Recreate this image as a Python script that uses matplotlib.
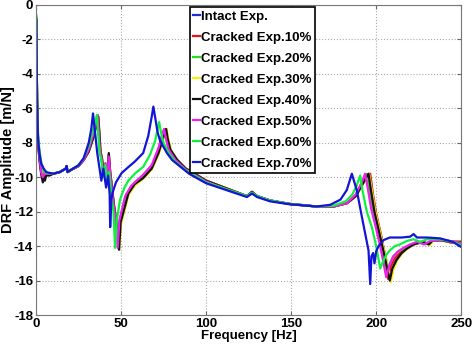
import matplotlib
matplotlib.use("Agg")
import matplotlib.pyplot as plt
import numpy as np

plt.rcParams["font.family"] = ["Liberation Sans", "DejaVu Sans"]
plt.rcParams["font.weight"] = "bold"
plt.rcParams["axes.unicode_minus"] = False

# (frequency [Hz], amplitude) points
intact_pts = [
    (0.2, -0.8), (0.6, -5.6), (1.2, -8.0), (2, -8.9), (3, -9.6), (5, -9.8), (8, -9.85),
    (10, -9.8), (14, -9.7), (17.5, -9.5), (18, -9.35), (18.5, -9.7), (21, -9.55), (25, -9.35),
    (28, -9.0), (31, -8.5), (34, -7.6), (36.5, -6.5), (37.2, -7.5), (37.8, -8.6), (38.6, -8.8),
    (39.7, -9.9), (41, -9.3), (42, -10.0), (42.8, -8.7), (43.6, -9.7), (45.8, -11.6),
    (47.8, -13.0), (48.8, -14.2), (49.8, -12.6), (54.3, -10.95), (58, -10.4), (63, -10.0),
    (68, -9.5), (72, -8.6), (74.5, -7.8), (76.3, -7.2), (77.3, -7.8), (79, -8.4), (83, -9.0),
    (88, -9.5), (95, -9.9), (100, -10.2), (112, -10.65), (124, -11.1), (127, -10.85),
    (130, -11.1), (137.6, -11.35), (149, -11.55), (165, -11.7), (175, -11.7), (183, -11.5),
    (188, -11.1), (192, -10.4), (196, -9.8), (197.5, -10.8), (199.5, -12.0), (202.5, -13.3),
    (205.5, -14.6), (208.3, -16.0), (209.8, -15.3), (212, -14.8), (215, -14.4), (218, -14.15),
    (222, -13.9), (227.6, -13.75), (231, -13.9), (233, -13.7), (237.6, -13.65), (244, -13.75),
    (250, -13.75),
]

crack10_pts = [
    (0.2, -0.8), (0.6, -5.5), (1.2, -7.9), (2, -8.8), (3, -9.5), (5, -9.8), (8, -9.85),
    (10, -9.8), (14, -9.7), (17.5, -9.5), (18, -9.35), (18.5, -9.7), (21, -9.55), (25, -9.35),
    (28, -9.0), (31, -8.5), (34, -7.5), (36.4, -6.4), (37.0, -7.5), (37.6, -8.5), (38.4, -8.7),
    (39.6, -9.8), (40.8, -9.2), (42, -9.9), (42.8, -8.8), (43.6, -9.8), (45.7, -11.6),
    (47.5, -12.9), (48.5, -14.1), (49.5, -12.6), (53.5, -11.0), (58, -10.35), (63, -9.95),
    (68, -9.45), (72, -8.5), (74.3, -7.7), (75.8, -7.2), (76.9, -7.8), (78.5, -8.4), (83, -9.0),
    (88, -9.5), (95, -9.9), (100, -10.2), (112, -10.65), (124, -11.1), (127, -10.85),
    (130, -11.1), (137.6, -11.35), (149, -11.55), (165, -11.7), (175, -11.7), (183, -11.5),
    (188, -11.05), (192, -10.3), (196.5, -9.8), (198, -10.9), (200, -12.1), (203, -13.4),
    (205, -14.5), (207, -15.9), (208.5, -15.2), (211, -14.7), (214, -14.4), (218, -14.1),
    (222, -13.9), (227, -13.75), (230, -13.85), (233, -13.7), (238, -13.65), (244, -13.8),
    (250, -13.8),
]

crack20_pts = [
    (0.2, -0.7), (0.6, -5.4), (1.2, -7.8), (2, -8.7), (3, -9.4), (5, -9.75), (8, -9.8),
    (10, -9.8), (14, -9.7), (17.5, -9.5), (18, -9.35), (18.5, -9.7), (21, -9.55), (25, -9.35),
    (28, -9.0), (31, -8.4), (34, -7.5), (36.2, -6.4), (36.9, -7.5), (37.6, -8.6), (38.4, -8.8),
    (39.6, -9.9), (40.8, -9.2), (42, -10.0), (42.8, -8.9), (43.6, -9.9), (45.5, -11.6),
    (47.2, -12.8), (48.2, -14.0), (49.2, -12.5), (53, -11.0), (57, -10.4), (63, -9.9),
    (68, -9.4), (72, -8.4), (74, -7.6), (75.4, -7.2), (76.6, -7.8), (78, -8.4), (82, -8.95),
    (88, -9.5), (95, -9.9), (100, -10.2), (112, -10.65), (124, -11.1), (127, -10.85),
    (130, -11.1), (137.6, -11.35), (149, -11.55), (165, -11.7), (175, -11.7), (183, -11.5),
    (188, -11.05), (191.5, -10.35), (194.5, -9.8), (196, -10.7), (198, -11.9), (201, -13.2),
    (203.5, -14.4), (206, -15.7), (207.5, -15.1), (210, -14.6), (213, -14.3), (217, -14.1),
    (221, -13.9), (226, -13.75), (229, -13.9), (232, -13.7), (238, -13.65), (244, -13.75),
    (250, -13.85),
]

crack30_pts = [
    (0.2, -0.8), (0.6, -5.6), (1.2, -8.0), (2, -8.9), (3, -9.6), (4, -9.9), (6, -9.85),
    (10, -9.8), (14, -9.7), (17.5, -9.5), (18, -9.35), (18.5, -9.7), (21, -9.55), (25, -9.35),
    (28, -9.0), (31, -8.5), (34, -7.6), (36.7, -6.5), (37.4, -7.6), (38.1, -8.6), (38.9, -8.9),
    (39.9, -9.9), (41.1, -9.4), (42.1, -10.0), (42.9, -8.7), (43.7, -9.7), (46, -11.7),
    (48, -13.1), (49, -14.2), (50, -12.7), (54.5, -11.0), (58.5, -10.45), (63, -10.1),
    (68, -9.55), (72, -8.7), (74.8, -7.8), (76.8, -7.2), (77.8, -7.8), (79.3, -8.4), (83, -9.0),
    (88, -9.5), (95, -9.9), (100, -10.2), (112, -10.65), (124, -11.1), (127, -10.85),
    (130, -11.1), (137.6, -11.35), (149, -11.55), (165, -11.7), (175, -11.7), (183, -11.5),
    (188, -11.1), (192, -10.45), (195.8, -9.8), (197.5, -10.8), (199.5, -12.0), (202.5, -13.3),
    (205.5, -14.6), (208.6, -16.1), (210, -15.4), (212.5, -14.8), (215.5, -14.4),
    (218.5, -14.15), (222, -13.9), (227.6, -13.75), (231.5, -13.95), (233.5, -13.7),
    (237.6, -13.65), (244, -13.75), (250, -13.7),
]

crack40_pts = [
    (0.2, -0.8), (0.6, -5.6), (1.2, -8.0), (2, -9.0), (3, -9.8), (4, -10.3), (4.6, -9.9),
    (5.2, -10.2), (6, -9.9), (8, -9.9), (10, -9.8), (14, -9.7), (17.5, -9.5), (18, -9.35),
    (18.5, -9.7), (21, -9.55), (25, -9.35), (28, -9.0), (31, -8.5), (34, -7.6), (36.6, -6.5),
    (37.3, -7.5), (38, -8.6), (38.8, -8.9), (39.8, -9.9), (41, -9.4), (42, -10.0), (42.8, -8.6),
    (43.6, -9.7), (45.8, -11.6), (47.8, -13.0), (48.8, -14.2), (49.8, -12.6), (54.3, -10.95),
    (58, -10.4), (63, -10.05), (68, -9.5), (72, -8.6), (74.5, -7.8), (76.5, -7.2), (77.5, -7.8),
    (79, -8.4), (83, -9.0), (88, -9.5), (95, -9.9), (100, -10.2), (112, -10.65), (124, -11.1),
    (127, -10.85), (130, -11.1), (137.6, -11.35), (149, -11.55), (165, -11.7), (175, -11.7),
    (183, -11.5), (188, -11.1), (192, -10.4), (195.5, -9.8), (197, -10.8), (199, -12.0),
    (202, -13.3), (205, -14.6), (208, -16.0), (209.5, -15.3), (212, -14.8), (215, -14.4),
    (218, -14.15), (222, -13.9), (227.6, -13.75), (231, -13.9), (233, -13.7), (237.6, -13.65),
    (244, -13.75), (250, -13.75),
]

crack50_pts = [
    (0.2, -0.8), (0.6, -5.5), (1.2, -7.9), (2, -8.8), (3, -9.7), (4, -10.0), (5, -9.8),
    (7, -9.8), (10, -9.8), (14, -9.7), (17.5, -9.5), (18, -9.35), (18.5, -9.7), (21, -9.55),
    (25, -9.35), (28, -9.0), (31, -8.4), (34, -7.4), (36.3, -6.5), (37, -7.5), (37.6, -8.5),
    (38.4, -8.8), (39.6, -9.9), (40.8, -9.2), (42, -10.0), (42.8, -8.8), (43.6, -9.8),
    (45.5, -11.5), (47.2, -12.8), (48, -14.1), (49, -12.5), (52.4, -11.1), (56, -10.5),
    (63, -9.85), (68, -9.3), (72, -8.3), (74, -7.6), (75.3, -7.2), (76.5, -7.8), (78, -8.4),
    (82, -9.0), (88, -9.55), (95, -9.95), (100, -10.25), (112, -10.7), (124, -11.1),
    (127, -10.9), (130, -11.1), (137.6, -11.35), (149, -11.55), (165, -11.7), (175, -11.7),
    (183, -11.5), (188, -11.0), (191.5, -10.3), (193.5, -9.8), (195, -10.6), (197, -11.8),
    (200, -13.0), (203, -14.3), (205.9, -15.8), (207.5, -15.2), (210, -14.6), (213, -14.3),
    (216, -14.1), (220, -13.9), (224, -13.75), (228, -13.9), (232, -13.7), (240, -13.65),
    (250, -13.8),
]

crack60_pts = [
    (0.2, -0.6), (0.6, -5.2), (1.2, -7.6), (2, -8.4), (3, -9.1), (4.5, -9.6), (6, -9.75),
    (10, -9.8), (14, -9.7), (17.5, -9.5), (18, -9.35), (18.5, -9.7), (21, -9.55), (25, -9.3),
    (28, -8.9), (31, -8.2), (33.5, -7.3), (35.7, -6.4), (36.5, -7.4), (37.5, -8.7), (38.3, -8.9),
    (39.6, -10.0), (40.8, -9.3), (42, -10.4), (43, -9.7), (44, -10.8), (45.5, -12.0),
    (46.5, -14.1), (47.5, -12.5), (49.4, -11.3), (52, -10.6), (54.3, -10.2), (58, -9.8),
    (63, -9.4), (67, -8.7), (70, -7.9), (71.5, -7.2), (72.4, -6.8), (73.5, -7.4), (75, -8.0),
    (78, -8.6), (82, -9.1), (88, -9.6), (95, -10.0), (100, -10.3), (112, -10.7), (124, -11.1),
    (127, -10.9), (130, -11.1), (137.6, -11.35), (149, -11.55), (165, -11.7), (175, -11.65),
    (182, -11.4), (186, -11.0), (188.5, -10.5), (190.6, -9.9), (192, -10.8), (194.5, -12.0),
    (197.5, -12.9), (200, -14.0), (202.4, -15.3), (204, -14.9), (206, -14.5), (208, -14.25),
    (211, -14.0), (214, -13.9), (218, -13.7), (222, -13.6), (226, -13.75), (230, -13.6),
    (237.6, -13.6), (245, -13.75), (250, -13.95),
]

crack70_pts = [
    (0.2, -0.9), (0.6, -5.5), (1.2, -7.8), (2, -8.6), (3, -9.2), (4.5, -9.5), (6, -9.7),
    (10, -9.8), (14, -9.7), (17.5, -9.5), (18, -9.35), (18.5, -9.7), (21, -9.55), (25, -9.3),
    (28, -8.9), (31, -8.0), (32.5, -7.2), (33.5, -6.3), (34.5, -7.2), (36, -8.6), (38.4, -10.2),
    (39.6, -9.5), (41.2, -10.6), (42.4, -9.9), (43.3, -11.0), (43.6, -12.9), (44.3, -11.3),
    (45, -10.9), (47, -10.3), (50.4, -9.75), (55, -9.35), (58, -9.1), (63, -8.6), (66, -7.6),
    (68, -6.5), (69, -5.9), (70, -6.5), (71.5, -7.4), (73, -7.9), (77, -8.6), (80, -9.0),
    (85, -9.4), (90, -9.8), (100, -10.35), (112, -10.75), (124, -11.15), (127, -10.95),
    (130, -11.15), (137.6, -11.4), (149, -11.57), (165, -11.7), (173, -11.6), (179, -11.3),
    (182.7, -10.75), (185.7, -9.8), (188.6, -10.75), (191.6, -12.3), (195.5, -14.25),
    (196.5, -16.2), (197.2, -14.6), (198.2, -14.4), (199, -15.0), (200, -14.3), (201.4, -14.0),
    (204.3, -13.65), (208, -13.5), (215, -13.5), (220, -13.45), (222, -13.3), (224, -13.5),
    (230, -13.5), (237.6, -13.55), (245, -13.75), (250, -14.05),
]

labels = ["Intact Exp.", "Cracked Exp.10%", "Cracked Exp.20%", "Cracked Exp.30%",
          "Cracked Exp.40%", "Cracked Exp.50%", "Cracked Exp.60%", "Cracked Exp.70%"]
series = [intact_pts, crack10_pts, crack20_pts, crack30_pts,
          crack40_pts, crack50_pts, crack60_pts, crack70_pts]
colors = ["#1f2fd0", "#e8141a", "#22e022", "#f2f20a",
          "#111111", "#f01ef0", "#10f040", "#1414d8"]

x_ticks = [0, 50, 100, 150, 200, 250]
y_ticks = [0, -2, -4, -6, -8, -10, -12, -14, -16, -18]

fig = plt.figure(figsize=(4.74, 3.52), dpi=100)
ax = fig.add_axes([0.076, 0.105, 0.897, 0.881])

for pts, lab, col in zip(series, labels, colors):
    arr = np.array(pts)
    ax.plot(arr[:, 0], arr[:, 1], color=col, linewidth=1.6, label=lab)

ax.set_xlim(0, 250)
ax.set_ylim(-18, 0)
ax.set_xticks(x_ticks)
ax.set_yticks(y_ticks)
ax.tick_params(direction="in", length=3, labelsize=9.5, top=True, right=True,
               color="#666666", pad=2)
for lab in ax.get_xticklabels() + ax.get_yticklabels():
    lab.set_fontweight("bold")
ax.grid(True, linestyle=":", color="#aaaaaa", linewidth=0.8)
for sp in ax.spines.values():
    sp.set_color("#777777")
    sp.set_linewidth(0.8)

ax.set_xlabel("Frequency [Hz]", fontsize=9.5, fontweight="bold", labelpad=0)
ax.set_ylabel("DRF Amplitude [m/N]", fontsize=10.5, fontweight="bold")
ax.yaxis.set_label_coords(-0.05, 0.5)

leg = ax.legend(loc="upper left", bbox_to_anchor=(0.362, 0.992),
                handlelength=0.5, handletextpad=0.12, labelspacing=0.66,
                borderpad=0.25, borderaxespad=0, fancybox=False, framealpha=1,
                prop={"weight": "bold", "size": 9.5})
leg.get_frame().set_edgecolor("black")
leg.get_frame().set_linewidth(1.2)

fig.savefig("out.png", dpi=100)
